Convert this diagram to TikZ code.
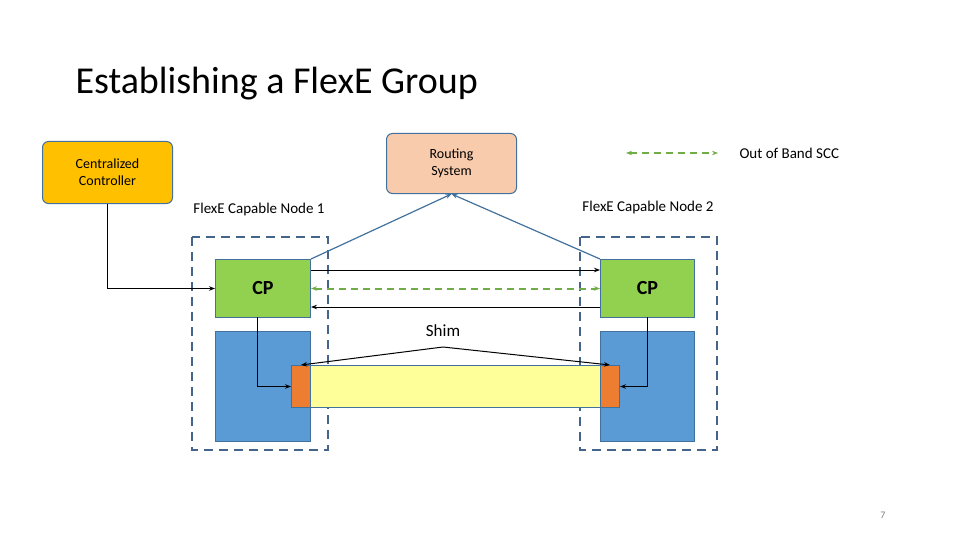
\documentclass[tikz,border=0pt]{standalone}
\usepackage{fontspec}
\setmainfont{Carlito}
\usetikzlibrary{arrows.meta}
\definecolor{edge}{HTML}{41719C}
\definecolor{dashbox}{HTML}{44648A}
\definecolor{cpgreen}{HTML}{92D050}
\definecolor{sccgreen}{HTML}{70AD47}
\definecolor{blk}{HTML}{5B9BD5}
\definecolor{ctrl}{HTML}{FFC000}
\definecolor{route}{HTML}{F8CBAD}
\definecolor{shim}{HTML}{FFFF99}
\definecolor{port}{HTML}{ED7D31}
\begin{document}
\begin{tikzpicture}[x=1pt,y=-1pt,
  box/.style={draw=edge,line width=1pt,anchor=north west,inner sep=0pt},
  rbox/.style={box,rounded corners=6pt,align=center,font=\fontsize{14}{17}\selectfont},
  arr/.style={-{Stealth[length=6pt]},line width=1pt},
  scc/.style={{Stealth[length=6pt]}-{Stealth[length=6pt]},dashed,dash pattern=on 7pt off 5pt,draw=sccgreen,line width=2pt},
  lbl/.style={font=\fontsize{15}{18}\selectfont}]
\useasboundingbox (0,0) rectangle (960,540);
% title
\node[anchor=base west,font=\fontsize{38}{44}\selectfont] (title) at (72,94) {Establishing a FlexE Group};
% top boxes
\node[rbox,fill=ctrl,minimum width=130pt,minimum height=62pt] (ctl) at (42,141) {Centralized\\Controller};
\node[rbox,fill=route,minimum width=130pt,minimum height=60pt] (rs) at (386,133) {Routing\\System};
% legend
\coordinate (l1) at (626,153);
\coordinate (l2) at (718,153);
\draw[scc] (l1) -- (l2);
\node[lbl,anchor=west] (legend) at (736,153) {Out of Band SCC};
% node labels
\node[lbl] (n1) at (259,210) {FlexE Capable Node 1};
\node[lbl] (n2) at (648,208) {FlexE Capable Node 2};
% dashed node boxes
\draw[dashbox,line width=2.2pt,dash pattern=on 9pt off 6pt] (192,237) rectangle (328,450);
\draw[dashbox,line width=2.2pt,dash pattern=on 9pt off 6pt] (580,237) rectangle (717,450);
% blue blocks
\node[box,fill=blk,minimum width=95pt,minimum height=110pt] (b1) at (215,331) {};
\node[box,fill=blk,minimum width=94pt,minimum height=110pt] (b2) at (600,331) {};
% CP boxes
\node[box,fill=cpgreen,minimum width=95pt,minimum height=58pt,font=\bfseries\fontsize{20}{24}\selectfont] (cp1) at (215,259) {CP};
\node[box,fill=cpgreen,minimum width=94pt,minimum height=58pt,font=\bfseries\fontsize{20}{24}\selectfont] (cp2) at (600,259) {CP};
% shim bar and ports
\node[box,fill=shim,minimum width=328pt,minimum height=42pt] (bar) at (291,365) {};
\node[box,fill=port,minimum width=19pt,minimum height=42pt] (p1) at (291,365) {};
\node[box,fill=port,minimum width=19pt,minimum height=42pt] (p2) at (600,365) {};
% links between CPs
\draw[arr] (cp1.north east |- 0,270) -- (cp2.north west |- 0,270);
\draw[scc] (cp1.east) -- (cp2.west);
\draw[arr] (cp2.north west |- 0,307) -- (cp1.north east |- 0,307);
% controller to CP1
\draw[arr] (ctl.south) |- (cp1.west);
% CP to ports
\draw[arr] (cp1.south |- 0,317) ++(-6,0) coordinate (c1) |- (p1.west);
\draw[arr] (cp2.south |- 0,317) coordinate (c2) |- (p2.east);
% routing links
\draw[edge,line width=1.2pt,-{Stealth[length=6pt]}] (cp1.north east) -- (rs.south);
\draw[edge,line width=1.2pt,-{Stealth[length=6pt]}] (cp2.north west) -- (rs.south);
% shim
\node[lbl,font=\fontsize{17}{20}\selectfont] (shimlbl) at (443,331) {Shim};
\coordinate (apex) at (443,347);
\draw[arr] (apex) -- (p1.north);
\draw[arr] (apex) -- (p2.north);
% page number
\node[text=gray,font=\fontsize{10}{12}\selectfont] (pg) at (883,515) {7};
\end{tikzpicture}
\end{document}
